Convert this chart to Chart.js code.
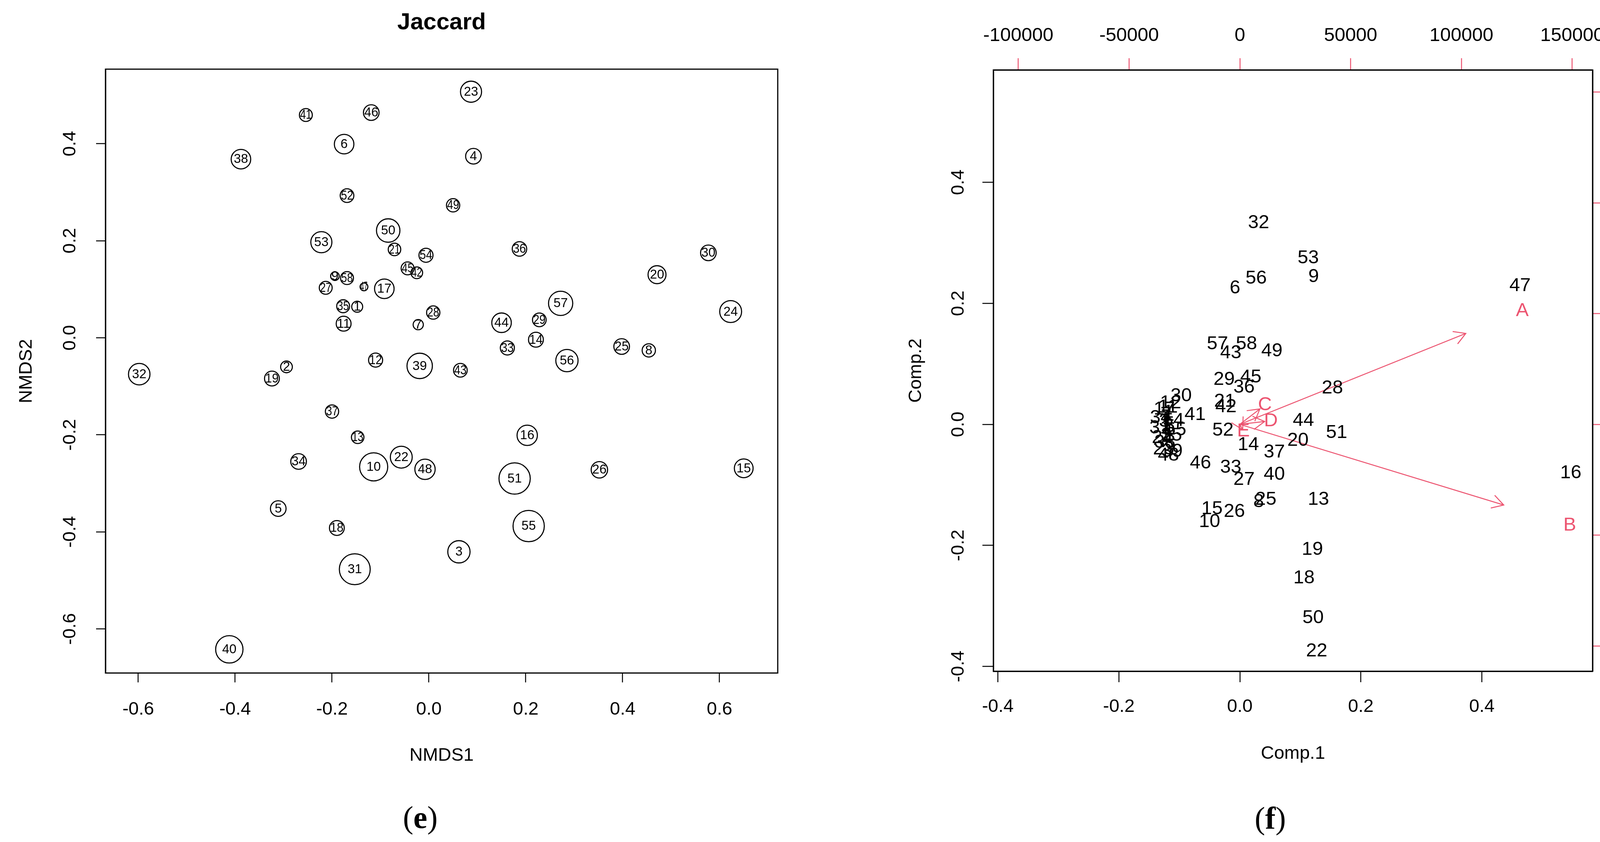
<!DOCTYPE html>
<html>
<head>
<meta charset="utf-8">
<title>NMDS (Jaccard) and PCA biplot</title>
<script src="https://cdn.jsdelivr.net/npm/chart.js@4.4.1/dist/chart.umd.min.js"></script>
<style>
  html, body { margin:0; padding:0; background:#ffffff; }
  body { width:4244px; height:2155px; position:relative; overflow:hidden; }
  .panel { position:absolute; top:0; width:2122px; height:2155px; }
  .panel canvas { display:block; width:2122px; height:2155px; }
  .cap { position:absolute; font-family:'Liberation Serif','Times New Roman',serif; font-size:80px; line-height:1;
         transform:translate(-50%,-50%); color:#000; white-space:nowrap; }
</style>
</head>
<body>
<div class="panel" style="left:0"><canvas id="chartE" width="2122" height="2155"></canvas></div>
<div class="panel" style="left:2122px"><canvas id="chartF" width="2122" height="2155"></canvas></div>
<div class="cap" style="left:1076px; top:2092px">(<b>e</b>)</div>
<div class="cap" style="left:3252px; top:2094px">(<b>f</b>)</div>
<script>
// ---------------- DATA ----------------
const siteLabels = ['1','2','3','4','5','6','7','8','9','10','11','12','13','14','15','16','17','18','19','20',
  '21','22','23','24','25','26','27','28','29','30','31','32','33','34','35','36','37','38','39','40',
  '41','42','43','44','45','46','47','48','49','50','51','52','53','54','55','56','57','58'];

// Panel (e): NMDS on Jaccard distances
const nmds1 = [-0.148,-0.294,0.062,0.092,-0.311,-0.175,-0.022,0.454,-0.194,-0.114,
  -0.176,-0.110,-0.147,0.221,0.650,0.203,-0.092,-0.190,-0.324,0.471,
  -0.071,-0.057,0.087,0.623,0.398,0.352,-0.213,0.009,0.228,0.577,
  -0.153,-0.598,0.162,-0.269,-0.177,0.187,-0.200,-0.388,-0.019,-0.412,
  -0.254,-0.025,0.065,0.150,-0.044,-0.119,-0.134,-0.008,0.050,-0.084,
  0.177,-0.169,-0.222,-0.006,0.206,0.285,0.272,-0.169];
const nmds2 = [0.064,-0.060,-0.441,0.374,-0.352,0.399,0.027,-0.026,0.127,-0.266,
  0.029,-0.046,-0.205,-0.004,-0.269,-0.201,0.101,-0.392,-0.084,0.130,
  0.182,-0.246,0.507,0.054,-0.018,-0.272,0.103,0.052,0.037,0.175,
  -0.477,-0.075,-0.021,-0.255,0.065,0.183,-0.152,0.368,-0.058,-0.642,
  0.459,0.134,-0.067,0.031,0.143,0.464,0.105,-0.271,0.273,0.221,
  -0.290,0.293,0.197,0.170,-0.388,-0.047,0.071,0.123];
const bubbleSize = [1.4,1.5,2.85,2.0,2.0,2.5,1.3,1.7,1.1,3.6,
  1.9,1.8,1.6,1.9,2.4,2.6,2.5,1.9,1.9,2.3,
  1.6,2.8,2.7,2.8,2.0,2.1,1.65,1.7,1.75,2.0,
  3.95,2.75,1.8,2.0,1.65,1.85,1.7,2.5,3.25,3.5,
  1.65,1.5,1.75,2.5,1.65,2.0,1.0,2.6,1.7,3.0,
  4.0,1.75,2.7,1.8,4.0,2.85,3.1,1.65];
const nmdsXTicks = [-0.6,-0.4,-0.2,0,0.2,0.4,0.6];
const nmdsYTicks = [-0.6,-0.4,-0.2,0,0.2,0.4];

// Panel (f): PCA biplot scores
const comp1 = [-0.118,-0.121,-0.125,-0.120,-0.116,-0.008,-0.122,0.031,0.122,-0.050,
  -0.119,-0.1145,0.130,0.014,-0.046,0.547,-0.125,0.106,0.120,0.096,
  -0.025,0.127,-0.126,-0.128,0.043,-0.009,0.007,0.153,-0.026,-0.097,
  -0.132,0.031,-0.015,-0.131,-0.113,0.007,0.057,-0.124,-0.112,0.057,
  -0.074,-0.023,-0.015,0.105,0.018,-0.065,0.463,-0.118,0.053,0.121,
  0.160,-0.028,0.113,-0.110,-0.106,0.027,-0.037,0.011];
const comp2 = [0.020,-0.020,0.005,-0.012,-0.004,0.225,0.012,-0.128,0.244,-0.161,
  0.028,0.035,-0.124,-0.034,-0.140,-0.080,0.025,-0.254,-0.207,-0.027,
  0.038,-0.375,-0.041,-0.022,-0.124,-0.144,-0.091,0.060,0.074,0.047,
  -0.006,0.333,-0.071,0.011,-0.018,0.061,-0.046,-0.030,-0.045,-0.083,
  0.016,0.029,0.118,0.006,0.078,-0.064,0.229,-0.051,0.121,-0.320,
  -0.014,-0.010,0.275,0.006,-0.009,0.241,0.133,0.133];
// Variable loadings (secondary axes units)
const loadingLabels = ['A','B','C','D','E'];
const loadingX = [127500,148900,11300,14000,1600];
const loadingY = [51300,-45500,8700,1600,-3000];
const compTicks = [-0.4,-0.2,0,0.2,0.4];
const loadingTicks = [-100000,-50000,0,50000,100000,150000];

// ---------------- STYLE / HELPERS ----------------
const SANS = "'Liberation Sans', Arial, Helvetica, sans-serif";
const RED = '#EC5470';
const BUBBLE_PX = 10;      // pixels per bubble-size unit
const ARROW_FRAC = 0.8;    // R biplot: arrows drawn to 0.8 x loading, label at loading
const fmt1 = v => (Math.abs(v) < 1e-9 ? 0 : v).toFixed(1);
const setTicks = vals => s => { s.ticks = vals.map(v => ({ value: v })); };

function rotatedLabels(id, items) {
  return {
    id,
    afterDraw(chart) {
      const ctx = chart.ctx, ca = chart.chartArea;
      items.forEach(it => {
        const s = chart.scales[it.scale];
        ctx.save();
        ctx.font = it.font; ctx.fillStyle = '#000';
        ctx.textAlign = 'center'; ctx.textBaseline = 'middle';
        s.ticks.forEach(t => {
          const y = s.getPixelForValue(t.value);
          const x = it.side === 'left' ? ca.left - it.offset : ca.right + it.offset;
          ctx.save(); ctx.translate(x, y); ctx.rotate(-Math.PI / 2);
          ctx.fillText(it.format(t.value), 0, 0);
          ctx.restore();
        });
        ctx.restore();
      });
    }
  };
}
const boxPlugin = {
  id: 'box',
  afterDraw(chart) {
    const { left, top, right, bottom } = chart.chartArea, c = chart.ctx;
    c.save(); c.strokeStyle = '#000'; c.lineWidth = 3;
    c.strokeRect(left, top, right - left, bottom - top); c.restore();
  }
};
const blackGrid = (len) => ({ drawOnChartArea: false, color: '#000', tickLength: len, tickWidth: 2.5 });
const redGrid = (len) => ({ drawOnChartArea: false, color: RED, tickLength: len, tickWidth: 2.5 });
const border = { color: '#000', width: 3 };

// ---------------- PANEL (e) ----------------
const bubbleLabels = {
  id: 'bubbleLabels',
  afterDatasetsDraw(chart) {
    const meta = chart.getDatasetMeta(0), c = chart.ctx;
    c.save(); c.font = `33px ${SANS}`; c.fillStyle = '#000';
    c.textAlign = 'center'; c.textBaseline = 'middle';
    meta.data.forEach((el, i) => {
      const r = bubbleSize[i] * BUBBLE_PX;
      c.fillText(siteLabels[i], el.x, el.y + 1, Math.max(r * 1.8, 12));
    });
    c.restore();
  }
};

new Chart(document.getElementById('chartE'), {
  type: 'scatter',
  data: {
    datasets: [{
      label: 'sites',
      data: nmds1.map((x, i) => ({ x, y: nmds2[i] })),
      pointRadius: ctx => bubbleSize[ctx.dataIndex] * BUBBLE_PX,
      pointHoverRadius: ctx => bubbleSize[ctx.dataIndex] * BUBBLE_PX,
      pointBorderColor: '#000',
      pointBackgroundColor: 'rgba(0,0,0,0)',
      pointBorderWidth: 2.8
    }]
  },
  options: {
    responsive: false, animation: false, devicePixelRatio: 1, events: [],
    layout: { padding: { left: 0, top: 0, right: 131, bottom: 0 } },
    plugins: {
      legend: { display: false }, tooltip: { enabled: false },
      title: { display: true, text: 'Jaccard', fullSize: false, align: 'center', color: '#000',
               font: { family: SANS, size: 60, weight: 'bold' }, padding: { top: 22, bottom: 83 } }
    },
    scales: {
      x: {
        type: 'linear', position: 'bottom', min: -0.6677, max: 0.7202, bounds: 'data',
        afterBuildTicks: setTicks(nmdsXTicks), afterFit: s => { s.height = 432.5; },
        grid: blackGrid(24), border,
        ticks: { color: '#000', font: { family: SANS, size: 47 }, padding: 41, maxRotation: 0, autoSkip: false, callback: v => fmt1(v) },
        title: { display: true, text: 'NMDS1', color: '#000', font: { family: SANS, size: 47 }, padding: { top: 0, bottom: 193 } }
      },
      y: {
        type: 'linear', position: 'left', min: -0.6908, max: 0.5535, bounds: 'data',
        afterBuildTicks: setTicks(nmdsYTicks), afterFit: s => { s.width = 270; },
        grid: blackGrid(24), border,
        ticks: { display: false },
        title: { display: true, text: 'NMDS2', color: '#000', font: { family: SANS, size: 47 }, padding: { top: 40, bottom: 0 } }
      }
    }
  },
  plugins: [boxPlugin, bubbleLabels,
    rotatedLabels('rotE', [{ scale: 'y', side: 'left', offset: 90, font: `47px ${SANS}`, format: fmt1 }])]
});

// ---------------- PANEL (f) ----------------
const siteText = {
  id: 'siteText',
  afterDatasetsDraw(chart) {
    const meta = chart.getDatasetMeta(0), c = chart.ctx;
    c.save(); c.font = `49px ${SANS}`; c.fillStyle = '#000';
    c.textAlign = 'center'; c.textBaseline = 'middle';
    meta.data.forEach((el, i) => c.fillText(siteLabels[i], el.x, el.y));
    c.restore();
  }
};
const arrowHeads = {
  id: 'arrowHeads',
  afterDatasetsDraw(chart) {
    const sx = chart.scales.x2, sy = chart.scales.y2, c = chart.ctx;
    const ox = sx.getPixelForValue(0), oy = sy.getPixelForValue(0);
    c.save(); c.strokeStyle = RED; c.fillStyle = RED; c.lineWidth = 2.5;
    loadingLabels.forEach((lab, i) => {
      const tx = sx.getPixelForValue(ARROW_FRAC * loadingX[i]);
      const ty = sy.getPixelForValue(ARROW_FRAC * loadingY[i]);
      const ang = Math.atan2(ty - oy, tx - ox), L = 34, a = Math.PI / 6;
      c.beginPath();
      c.moveTo(tx - L * Math.cos(ang - a), ty - L * Math.sin(ang - a));
      c.lineTo(tx, ty);
      c.lineTo(tx - L * Math.cos(ang + a), ty - L * Math.sin(ang + a));
      c.stroke();
    });
    c.font = `49px ${SANS}`; c.textAlign = 'center'; c.textBaseline = 'middle';
    loadingLabels.forEach((lab, i) => {
      c.fillText(lab, sx.getPixelForValue(loadingX[i]), sy.getPixelForValue(loadingY[i]));
    });
    c.restore();
  }
};

new Chart(document.getElementById('chartF'), {
  type: 'scatter',
  data: {
    datasets: [
      { label: 'sites', data: comp1.map((x, i) => ({ x, y: comp2[i] })), xAxisID: 'x', yAxisID: 'y',
        pointRadius: 0, pointHoverRadius: 0 },
      ...loadingLabels.map((lab, i) => ({
        type: 'line', label: lab, xAxisID: 'x2', yAxisID: 'y2',
        data: [{ x: 0, y: 0 }, { x: ARROW_FRAC * loadingX[i], y: ARROW_FRAC * loadingY[i] }],
        borderColor: RED, borderWidth: 2.5, pointRadius: 0, pointHoverRadius: 0, fill: false, tension: 0
      }))
    ]
  },
  options: {
    responsive: false, animation: false, devicePixelRatio: 1, events: [],
    layout: { padding: 0 },
    plugins: { legend: { display: false }, tooltip: { enabled: false }, title: { display: false } },
    scales: {
      x: {
        type: 'linear', position: 'bottom', min: -0.4074, max: 0.583, bounds: 'data',
        afterBuildTicks: setTicks(compTicks), afterFit: s => { s.height = 437; },
        grid: blackGrid(28), border,
        ticks: { color: '#000', font: { family: SANS, size: 47 }, padding: 35, maxRotation: 0, autoSkip: false, callback: v => fmt1(v) },
        title: { display: true, text: 'Comp.1', color: '#000', font: { family: SANS, size: 47 }, padding: { top: 0, bottom: 198 } }
      },
      y: {
        type: 'linear', position: 'left', min: -0.408, max: 0.5857, bounds: 'data',
        afterBuildTicks: setTicks(compTicks), afterFit: s => { s.width = 421; },
        grid: blackGrid(28), border,
        ticks: { display: false },
        title: { display: true, text: 'Comp.2', color: '#000', font: { family: SANS, size: 47 }, padding: { top: 195, bottom: 0 } }
      },
      x2: {
        type: 'linear', position: 'top', min: -111262, max: 159220, bounds: 'data',
        afterBuildTicks: setTicks(loadingTicks), afterFit: s => { s.height = 179; },
        grid: redGrid(30), border,
        ticks: { color: '#000', font: { family: SANS, size: 49 }, padding: 28, maxRotation: 0, autoSkip: false, callback: v => String(Math.round(v)) }
      },
      y2: {
        type: 'linear', position: 'right', min: -111426, max: 159957, bounds: 'data',
        afterBuildTicks: setTicks(loadingTicks), afterFit: s => { s.width = 167; },
        grid: redGrid(30), border,
        ticks: { display: false }
      }
    }
  },
  plugins: [boxPlugin, siteText, arrowHeads,
    rotatedLabels('rotF', [
      { scale: 'y', side: 'left', offset: 89, font: `47px ${SANS}`, format: fmt1 },
      { scale: 'y2', side: 'right', offset: 85, font: `49px ${SANS}`, format: v => String(Math.round(v)) }
    ])]
});
</script>
</body>
</html>
